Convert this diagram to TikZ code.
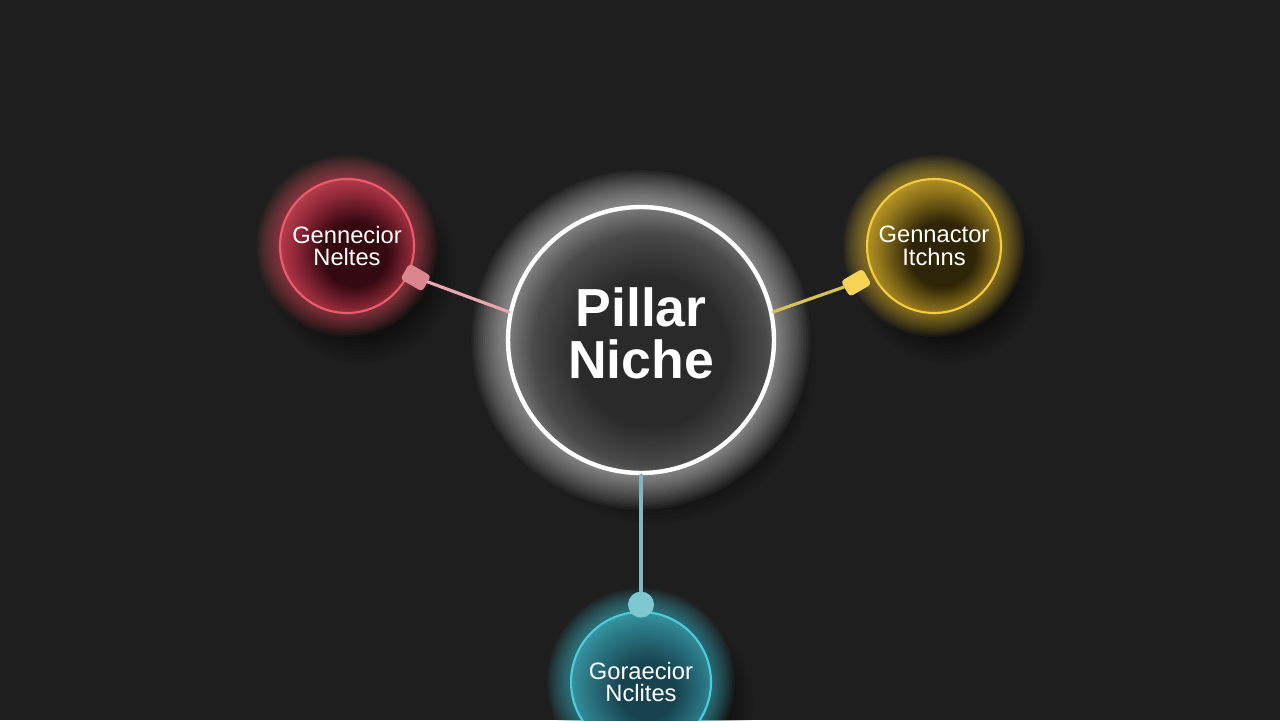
\documentclass[tikz,border=0pt]{standalone}
\usepackage{fontspec}
\setmainfont{Liberation Sans}
\usetikzlibrary{positioning}
\pgfdeclarelayer{back}
\pgfdeclarelayer{shade}
\pgfdeclarelayer{glow}
\pgfsetlayers{back,shade,glow,main}
\definecolor{bg}{HTML}{1E1E1E}
\definecolor{pcore}{HTML}{2A2A2A}
\definecolor{pmid}{HTML}{4A4A4A}
\definecolor{plite}{HTML}{888888}
\definecolor{redrim}{HTML}{F05A6A}
\definecolor{redmid}{HTML}{9A2C3C}
\definecolor{redcore}{HTML}{340910}
\definecolor{redline}{HTML}{E8A6B0}
\definecolor{yelrim}{HTML}{F6CC3A}
\definecolor{yelmid}{HTML}{94781C}
\definecolor{yelcore}{HTML}{2E2406}
\definecolor{yelline}{HTML}{D8C058}
\definecolor{cyanrim}{HTML}{4CCCDC}
\definecolor{cyanmid}{HTML}{2C7A88}
\definecolor{cyancore}{HTML}{17434E}
\definecolor{cyanline}{HTML}{80B6C6}
\pgfdeclareradialshading{pillarfill}{\pgfpoint{3bp}{-3bp}}{color(0bp)=(pcore);color(14bp)=(pcore);color(22bp)=(pmid);color(27.5bp)=(plite);color(30.5bp)=(white!85!black);color(33bp)=(white);color(50bp)=(white)}
\pgfdeclareradialshading{redfill}{\pgfpoint{4bp}{-4bp}}{color(0bp)=(redcore);color(12bp)=(redcore);color(23bp)=(redmid);color(30bp)=(redrim!80!black);color(34bp)=(redrim);color(50bp)=(redrim)}
\pgfdeclareradialshading{yelfill}{\pgfpoint{4bp}{-4bp}}{color(0bp)=(yelcore);color(12bp)=(yelcore);color(23bp)=(yelmid);color(30bp)=(yelrim!80!black);color(34bp)=(yelrim);color(50bp)=(yelrim)}
\pgfdeclareradialshading{cyanfill}{\pgfpoint{3bp}{-4bp}}{color(0bp)=(cyancore);color(10bp)=(cyancore);color(22bp)=(cyanmid);color(30bp)=(cyanrim!80!black);color(34bp)=(cyanrim);color(50bp)=(cyanrim)}
\tikzset{
  pillar/.style={circle,minimum size=5.32cm,draw=white,line width=2.5pt,shade,shading=pillarfill},
  pillartext/.style={text=white,align=center,font=\bfseries\fontsize{30.5}{29.5}\selectfont,yshift=4pt},
  niche/.style={circle,minimum size=2.68cm,line width=1.2pt,shade,text=white,align=center,font=\fontsize{13.5}{13}\selectfont},
  tab/.style={rectangle,rounded corners=2pt,minimum width=0.5cm,minimum height=0.36cm,inner sep=0pt},
  knob/.style={circle,minimum size=0.52cm,inner sep=0pt},
  link/.style={line width=1.8pt,line cap=round},
}
\begin{document}
\begin{tikzpicture}[x=0.02cm,y=-0.02cm]
  \useasboundingbox (0,0) rectangle (1280,720);
  \node[pillar,label={[pillartext]center:Pillar\\Niche}] (pillar) at (641,340) {};
  \node[niche,draw=redrim,shading=redfill] (red) at (347,246) {Gennecior\\Neltes};
  \node[niche,draw=yelrim,shading=yelfill] (yellow) at (934,246) {Gennactor\\Itchns};
  \node[niche,draw=cyanrim,shading=cyanfill,minimum size=2.8cm] (cyan) at (641,682) {Goraecior\\Nclites};
  \node[tab,fill=redrim!65!white!90!black,rotate=-30,anchor=west,xshift=-3pt] (redtab) at (red.-24) {};
  \node[tab,fill=yelrim!85!white,rotate=-150,anchor=west,xshift=3pt] (yeltab) at (yellow.-156) {};
  \node[knob,fill=cyanrim!65!white!90!black,above=-0.14cm of cyan] (cyanknob) {};
  \draw[link,redline] (redtab) -- (pillar.168);
  \draw[link,yelline] (yeltab) -- (pillar.12);
  \draw[link,cyanline] (pillar) -- (cyanknob);
  \begin{pgfonlayer}{back}
    \fill[bg] (0,0) rectangle (1280,720);
  \end{pgfonlayer}
  \begin{pgfonlayer}{glow}
    \foreach \n/\c/\r/\w in {pillar/white/133/2.6, red/redrim/67/1.7, yellow/yelrim/67/1.7, cyan/cyanrim/70/1.7}
      \foreach \k in {1,...,16}
        \draw[\c,opacity=0.045,line width={\k*\w*1pt}] (\n) circle[radius=\r];
  \end{pgfonlayer}
  \begin{pgfonlayer}{shade}
    \foreach \n/\r in {pillar/133, red/67, yellow/67, cyan/70}
      \foreach \k in {0,...,7}
        \fill[black,opacity=0.06] ([shift={(14,22)}]\n.center) circle[radius=\r+\k*4];
  \end{pgfonlayer}
\end{tikzpicture}
\end{document}
